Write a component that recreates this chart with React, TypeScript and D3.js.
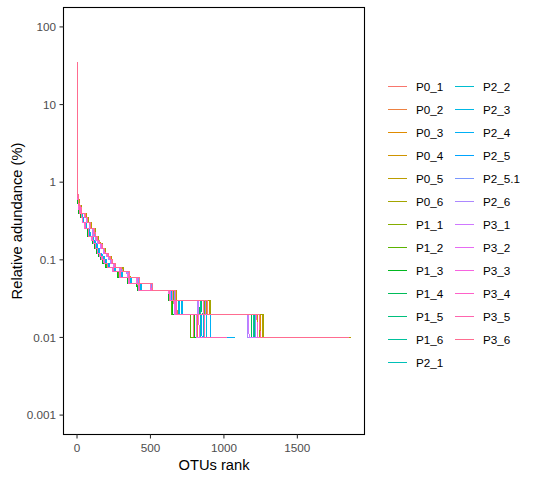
import * as d3 from "d3";

// samples, in legend order
const sampleNames = [
  "P0_1", "P0_2", "P0_3", "P0_4", "P0_5", "P0_6",
  "P1_1", "P1_2", "P1_3", "P1_4", "P1_5", "P1_6",
  "P2_1", "P2_2", "P2_3", "P2_4", "P2_5", "P2_5.1", "P2_6",
  "P3_1", "P3_2", "P3_3", "P3_4", "P3_5", "P3_6",
];

// relative abundance (%) of the rank 1 OTU of each sample
const topValues = [
  31.2, 28.5, 30.5, 29.0, 27.8, 33.4,
  31.0, 33.0, 35.5, 34.2, 28.3, 30.2,
  29.8, 27.4, 30.6, 32.1, 26.9, 29.4, 32.7,
  31.5, 30.0, 28.0, 29.9, 31.8, 34.8,
];

// abundance levels (%) of the staircase
const levels = [
  1.1, 0.9, 0.7, 0.6, 0.5, 0.4, 0.35, 0.3, 0.25, 0.2, 0.18, 0.16, 0.14,
  0.12, 0.11, 0.1, 0.09, 0.08, 0.07, 0.06, 0.05, 0.04, 0.03, 0.02, 0.01,
];

// last rank at which each sample still sits on each level (one row per sample)
const levelEnds = [
  [1, 3, 5, 8, 14, 30, 40, 55, 78, 102, 114, 126, 140, 156, 170, 186, 208, 248, 292, 352, 420, 628, 660, 790, 960],
  [2, 3, 6, 9, 16, 32, 42, 58, 82, 106, 118, 131, 146, 162, 176, 192, 214, 252, 300, 360, 426, 630, 680, 820, 1000],
  [2, 4, 8, 12, 26, 55, 70, 90, 118, 138, 148, 166, 186, 208, 224, 238, 256, 300, 350, 416, 505, 660, 880, 1250, 1700],
  [2, 4, 7, 11, 24, 52, 66, 86, 112, 132, 144, 162, 182, 204, 220, 234, 252, 296, 346, 412, 502, 650, 860, 1230, 1600],
  [2, 5, 9, 14, 30, 62, 78, 96, 128, 146, 156, 176, 196, 216, 232, 244, 262, 312, 360, 426, 516, 676, 900, 1262, 1864],
  [2, 5, 9, 13, 28, 60, 76, 94, 126, 144, 154, 174, 194, 214, 230, 242, 260, 314, 358, 424, 514, 672, 907, 1270, 1820],
  [2, 4, 8, 12, 25, 54, 68, 88, 115, 135, 146, 164, 184, 206, 222, 236, 254, 298, 348, 414, 504, 656, 870, 1240, 1650],
  [1, 2, 4, 7, 12, 27, 36, 50, 72, 97, 108, 120, 134, 150, 164, 178, 200, 240, 284, 345, 412, 625, 645, 772, 930],
  [1, 2, 4, 6, 11, 25, 34, 48, 70, 95, 106, 118, 131, 146, 160, 172, 196, 238, 278, 342, 408, 624, 652, 800, 950],
  [2, 4, 7, 11, 23, 50, 64, 84, 110, 130, 142, 160, 180, 200, 218, 232, 250, 292, 342, 408, 500, 640, 830, 1190, 1500],
  [2, 4, 8, 12, 27, 56, 72, 92, 120, 140, 150, 168, 188, 210, 226, 240, 258, 304, 354, 420, 510, 664, 850, 1210, 1550],
  [2, 4, 7, 11, 24, 51, 65, 85, 111, 131, 143, 161, 181, 202, 219, 233, 251, 294, 344, 410, 501, 645, 840, 1200, 1450],
  [2, 3, 5, 8, 15, 31, 41, 56, 80, 104, 116, 128, 143, 159, 173, 189, 211, 250, 296, 356, 424, 632, 690, 840, 1020],
  [2, 4, 6, 10, 17, 34, 44, 60, 85, 110, 122, 135, 150, 166, 180, 196, 218, 256, 305, 366, 432, 640, 700, 860, 1040],
  [2, 4, 7, 11, 18, 35, 46, 62, 88, 112, 125, 138, 153, 170, 184, 200, 222, 260, 310, 370, 440, 645, 710, 880, 1076],
  [2, 3, 6, 9, 16, 33, 43, 59, 84, 108, 120, 133, 148, 164, 178, 194, 216, 254, 302, 362, 430, 650, 720, 907, 1070],
  [1, 3, 5, 9, 15, 31, 41, 57, 81, 105, 117, 129, 144, 160, 174, 190, 212, 251, 298, 358, 425, 636, 695, 850, 1010],
  [2, 4, 8, 12, 26, 54, 69, 89, 116, 136, 147, 165, 185, 207, 223, 237, 255, 302, 352, 418, 508, 662, 875, 1215, 1580],
  [2, 4, 7, 10, 22, 48, 62, 82, 108, 128, 140, 158, 178, 198, 216, 230, 248, 290, 340, 405, 498, 632, 820, 1162, 1400],
  [2, 4, 7, 11, 23, 50, 64, 84, 110, 130, 142, 160, 180, 201, 218, 232, 250, 293, 343, 407, 499, 636, 825, 1170, 1480],
  [1, 3, 5, 8, 14, 29, 39, 54, 77, 101, 113, 125, 139, 155, 169, 185, 206, 246, 290, 350, 418, 627, 665, 810, 980],
  [1, 2, 5, 8, 13, 28, 38, 53, 76, 100, 112, 124, 138, 154, 168, 183, 204, 244, 288, 348, 415, 626, 670, 830, 990],
  [2, 4, 8, 12, 25, 53, 68, 88, 114, 134, 146, 164, 184, 205, 221, 235, 253, 297, 347, 413, 503, 652, 860, 1225, 1620],
  [1, 3, 6, 9, 15, 30, 40, 56, 80, 103, 115, 127, 142, 158, 172, 188, 210, 249, 294, 354, 422, 629, 675, 870, 1020],
  [2, 5, 8, 13, 27, 57, 72, 92, 122, 142, 152, 170, 190, 212, 228, 241, 259, 306, 356, 422, 512, 668, 890, 1245, 1850],
];

const xTicks = [0, 500, 1000, 1500];
const yTicks = [0.001, 0.01, 0.1, 1, 10, 100];
const yTickLabels = ["0.001", "0.01", "0.1", "1", "10", "100"];

// polar LUV -> hex, same as R's hcl()
function hclHex(h: number, c: number, l: number) {
  const hr = (h * Math.PI) / 180;
  const U = c * Math.cos(hr);
  const V = c * Math.sin(hr);
  const Y = l > 8 ? Math.pow((l + 16) / 116, 3) : l / 903.3;
  const un = 0.1978398;
  const vn = 0.4683363;
  const u = U / (13 * l) + un;
  const v = V / (13 * l) + vn;
  const X = (9 * Y * u) / (4 * v);
  const Z = (Y * (12 - 3 * u - 20 * v)) / (4 * v);
  const lin = [
    3.240479 * X - 1.53715 * Y - 0.498535 * Z,
    -0.969256 * X + 1.875992 * Y + 0.041556 * Z,
    0.055648 * X - 0.204043 * Y + 1.057311 * Z,
  ];
  const rgb = lin.map((c1) => {
    const g = c1 <= 0.0031308 ? 12.92 * c1 : 1.055 * Math.pow(c1, 1 / 2.4) - 0.055;
    return Math.round(Math.max(0, Math.min(1, g)) * 255);
  });
  return d3.rgb(rgb[0], rgb[1], rgb[2]).formatHex();
}

const W = 537;
const H = 479;
const panel = { left: 63.5, top: 7.5, right: 364.5, bottom: 434.5 };
const font = "'Liberation Sans', Arial, sans-serif";

export default function App() {
  const x = d3.scaleLinear().domain([-92, 1957]).range([panel.left, panel.right]);
  const y = d3
    .scaleLog()
    .domain([Math.pow(10, 2.25), Math.pow(10, -3.25)])
    .range([panel.top, panel.bottom]);

  const n = sampleNames.length;
  const colors = sampleNames.map((_, i) => hclHex(15 + (i * 360) / n, 100, 65));

  const series = sampleNames.map((name, i) => {
    const pts: [number, number][] = [[1, topValues[i]]];
    let prev = 1;
    levelEnds[i].forEach((end, k) => {
      if (end > prev) {
        pts.push([prev + 1, levels[k]], [end, levels[k]]);
        prev = end;
      }
    });
    return { name, pts, color: colors[i] };
  });

  const line = d3
    .line<[number, number]>()
    .x((d) => x(d[0]))
    .y((d) => y(d[1]));

  const rowsPerCol = 13;
  const legendTop = 86;
  const legendStep = 23;

  return (
    <svg
      width={W}
      height={H}
      style={{ position: "absolute", left: 0, top: 0, background: "#fff" }}
      fontFamily={font}
    >
      <rect x={0} y={0} width={W} height={H} fill="#fff" />
      <defs>
        <clipPath id="panel-clip">
          <rect
            x={panel.left}
            y={panel.top}
            width={panel.right - panel.left}
            height={panel.bottom - panel.top}
          />
        </clipPath>
      </defs>

      <g clipPath="url(#panel-clip)" shapeRendering="crispEdges">
        {series.map((s) => (
          <path
            key={s.name}
            d={line(s.pts) ?? ""}
            fill="none"
            stroke={s.color}
            strokeWidth={1}
          />
        ))}
      </g>

      <rect
        x={panel.left}
        y={panel.top}
        width={panel.right - panel.left}
        height={panel.bottom - panel.top}
        fill="none"
        stroke="#000"
        strokeWidth={1.1}
      />

      {/* y axis */}
      {yTicks.map((t, i) => (
        <g key={t}>
          <line x1={panel.left - 4} x2={panel.left} y1={y(t)} y2={y(t)} stroke="#333" strokeWidth={1.1} />
          <text
            x={panel.left - 7.5}
            y={y(t)}
            dy="0.35em"
            textAnchor="end"
            fontSize={11.7}
            fill="#4d4d4d"
          >
            {yTickLabels[i]}
          </text>
        </g>
      ))}

      {/* x axis */}
      {xTicks.map((t) => (
        <g key={t}>
          <line x1={x(t)} x2={x(t)} y1={panel.bottom} y2={panel.bottom + 4} stroke="#333" strokeWidth={1.1} />
          <text x={x(t)} y={451.5} textAnchor="middle" fontSize={11.7} fill="#4d4d4d">
            {t}
          </text>
        </g>
      ))}

      <text
        x={(panel.left + panel.right) / 2}
        y={470}
        textAnchor="middle"
        fontSize={14.7}
        fill="#000"
      >
        OTUs rank
      </text>
      <text
        transform={`translate(21.5,${(panel.top + panel.bottom) / 2}) rotate(-90)`}
        textAnchor="middle"
        fontSize={14.7}
        fill="#000"
      >
        Relative adundance (%)
      </text>

      {/* legend */}
      {series.map((s, i) => {
        const col = Math.floor(i / rowsPerCol);
        const row = i % rowsPerCol;
        const kx = col === 0 ? 388 : 455;
        const ly = legendTop + row * legendStep;
        return (
          <g key={s.name}>
            <line
              x1={kx}
              x2={kx + 19}
              y1={ly + 0.5}
              y2={ly + 0.5}
              stroke={s.color}
              strokeWidth={1}
              shapeRendering="crispEdges"
            />
            <text x={kx + 28} y={ly + 0.8} dy="0.36em" fontSize={11.7} fill="#000">
              {s.name}
            </text>
          </g>
        );
      })}
    </svg>
  );
}
